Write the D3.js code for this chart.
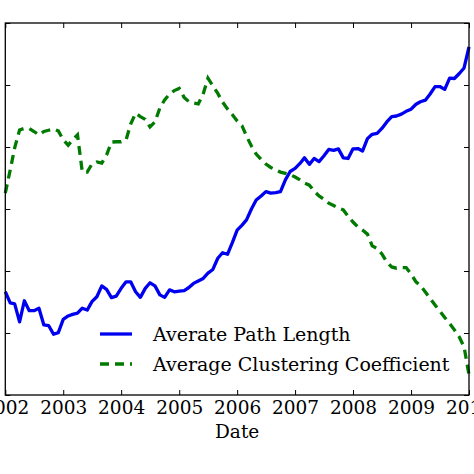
<!DOCTYPE html>
<html>
<head>
<meta charset="utf-8">
<script src="https://cdn.jsdelivr.net/npm/d3@7"></script>
<style>
  html, body { margin: 0; padding: 0; background: #fff; }
  svg { display: block; overflow: hidden; }
  text { font-family: "DejaVu Serif", serif; fill: #000; }
</style>
</head>
<body>
<div id="chart"></div>
<script>
// monthly samples, Jan 2002 .. Jan 2010
const START = new Date(2002, 0, 1)

const pathLength = [
  0.333, 0.297, 0.294, 0.236, 0.304, 0.272, 0.272, 0.280, 0.226, 0.224, 0.196, 0.201,
  0.244, 0.255, 0.260, 0.264, 0.280, 0.274, 0.301, 0.317, 0.352, 0.341, 0.314, 0.319,
  0.344, 0.365, 0.365, 0.333, 0.315, 0.344, 0.362, 0.352, 0.323, 0.315, 0.339, 0.333,
  0.335, 0.337, 0.346, 0.360, 0.368, 0.376, 0.393, 0.405, 0.441, 0.459, 0.454, 0.491,
  0.532, 0.548, 0.565, 0.600, 0.629, 0.642, 0.656, 0.651, 0.653, 0.656, 0.694, 0.721,
  0.731, 0.747, 0.765, 0.744, 0.763, 0.753, 0.771, 0.792, 0.789, 0.794, 0.765, 0.763,
  0.794, 0.795, 0.787, 0.827, 0.841, 0.844, 0.860, 0.881, 0.898, 0.900, 0.906, 0.915,
  0.922, 0.938, 0.946, 0.951, 0.971, 0.995, 0.995, 0.986, 1.022, 1.021, 1.037, 1.055,
  1.123
]

const clustering = [
  0.651, 0.726, 0.797, 0.855, 0.860, 0.860, 0.850, 0.839, 0.850, 0.854, 0.858, 0.852,
  0.823, 0.806, 0.823, 0.839, 0.720, 0.719, 0.745, 0.752, 0.748, 0.774, 0.816, 0.817,
  0.817, 0.823, 0.874, 0.909, 0.898, 0.889, 0.865, 0.881, 0.926, 0.952, 0.971, 0.982,
  0.989, 0.960, 0.947, 0.942, 0.939, 0.971, 1.022, 0.997, 0.973, 0.945, 0.923, 0.905,
  0.884, 0.868, 0.835, 0.803, 0.777, 0.760, 0.745, 0.734, 0.726, 0.719, 0.715, 0.711,
  0.703, 0.694, 0.684, 0.677, 0.658, 0.642, 0.632, 0.619, 0.611, 0.603, 0.597, 0.577,
  0.558, 0.542, 0.532, 0.519, 0.481, 0.473, 0.455, 0.429, 0.413, 0.409, 0.411, 0.411,
  0.390, 0.365, 0.353, 0.332, 0.311, 0.290, 0.271, 0.250, 0.231, 0.210, 0.187, 0.155,
  0.065
]

const years = [2002, 2003, 2004, 2005, 2006, 2007, 2008, 2009, 2010]
const yTicks = [0, 0.2, 0.4, 0.6, 0.8, 1.0, 1.2]
const legendLabels = ["Averate Path Length", "Average Clustering Coefficient"]

const WIDTH = 474, HEIGHT = 474
const MARGIN = { TOP: 23, RIGHT: 5, BOTTOM: 79, LEFT: 5.3 }

const svg = d3.select("#chart")
  .append("svg")
    .attr("width", WIDTH)
    .attr("height", HEIGHT)

const x = d3.scaleTime()
  .domain([new Date(2002, 0, 1), new Date(2010, 0, 1)])
  .range([MARGIN.LEFT, WIDTH - MARGIN.RIGHT])

const y = d3.scaleLinear()
  .domain([0, 1.2])
  .range([HEIGHT - MARGIN.BOTTOM, MARGIN.TOP])

const monthDate = (i) => d3.timeMonth.offset(START, i)

const line = d3.line()
  .x((d, i) => x(monthDate(i)))
  .y((d) => y(d))

// series
svg.append("path")
  .datum(pathLength)
  .attr("d", line)
  .attr("fill", "none")
  .attr("stroke", "#0000f0")
  .attr("stroke-width", 3.3)
  .attr("stroke-linejoin", "round")

svg.append("path")
  .datum(clustering)
  .attr("d", line)
  .attr("fill", "none")
  .attr("stroke", "#007a00")
  .attr("stroke-width", 3.3)
  .attr("stroke-dasharray", "9,6")

// axes, ticks pointing inwards on all four sides
const yearDates = years.map((yr) => new Date(yr, 0, 1))
const innerH = y(0) - y(1.2)
const innerW = x.range()[1] - x.range()[0]

const xBottom = svg.append("g")
  .attr("transform", `translate(0, ${y(0)})`)
  .call(d3.axisBottom(x).tickValues(yearDates).tickFormat(d3.timeFormat("%Y"))
    .tickSizeInner(-5).tickSizeOuter(0).tickPadding(6))

xBottom.selectAll("text")
  .style("font-size", "18.5px")

svg.append("g")
  .attr("transform", `translate(0, ${y(1.2)})`)
  .call(d3.axisTop(x).tickValues(yearDates).tickFormat("")
    .tickSizeInner(-5).tickSizeOuter(0))

svg.append("g")
  .attr("transform", `translate(${x.range()[0]}, 0)`)
  .call(d3.axisLeft(y).tickValues(yTicks).tickFormat("")
    .tickSizeInner(-5).tickSizeOuter(0))

svg.append("g")
  .attr("transform", `translate(${x.range()[1]}, 0)`)
  .call(d3.axisRight(y).tickValues(yTicks).tickFormat("")
    .tickSizeInner(-5).tickSizeOuter(0))

svg.selectAll(".domain").remove()
svg.selectAll(".tick line").attr("stroke", "#000")

svg.append("rect")
  .attr("x", x.range()[0])
  .attr("y", y(1.2))
  .attr("width", innerW)
  .attr("height", innerH)
  .attr("fill", "none")
  .attr("stroke", "#000")
  .attr("stroke-width", 1.3)

svg.append("text")
  .attr("x", (x.range()[0] + x.range()[1]) / 2)
  .attr("y", 438)
  .attr("text-anchor", "middle")
  .style("font-size", "18.5px")
  .text("Date")

// legend
const legend = svg.append("g")
  .attr("transform", "translate(100, 334)")

const styles = [
  { stroke: "#0000f0", dash: null },
  { stroke: "#007a00", dash: "9,6" }
]

legend.selectAll(".leg")
  .data(legendLabels)
  .enter()
  .append("g")
    .attr("class", "leg")
    .attr("transform", (d, i) => `translate(0, ${i * 30})`)
    .each(function (d, i) {
      const g = d3.select(this)
      g.append("line")
        .attr("x1", 0).attr("x2", 32)
        .attr("y1", 0).attr("y2", 0)
        .attr("stroke", styles[i].stroke)
        .attr("stroke-width", 3.3)
        .attr("stroke-dasharray", styles[i].dash)
      g.append("text")
        .attr("x", 53)
        .attr("y", 7)
        .style("font-size", "19px")
        .text(d)
    })
</script>
</body>
</html>
